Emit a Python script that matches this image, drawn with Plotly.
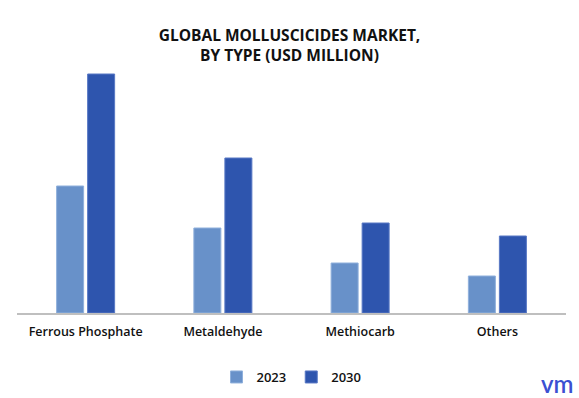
import plotly.graph_objects as go

categories = ["Ferrous Phosphate", "Metaldehyde", "Methiocarb", "Others"]
values_2023 = [127, 85, 50, 37]
values_2030 = [239, 155, 90, 77]
series_names = ["2023", "2030"]

W, H = 579, 398
ml, mr, mt, mb = 17, 13, 60, 85

fig = go.Figure()
fig.add_trace(go.Bar(
    x=categories, y=values_2023, name=series_names[0],
    marker=dict(color="#6891C9", line=dict(color="#8FB0DC", width=1)),
))
fig.add_trace(go.Bar(
    x=categories, y=values_2030, name=series_names[1],
    marker=dict(color="#2E55AE", line=dict(color="#5878C4", width=1)),
))

fig.update_layout(
    width=W, height=H,
    margin=dict(l=ml, r=mr, t=mt, b=mb, autoexpand=False),
    paper_bgcolor="white", plot_bgcolor="white",
    barmode="group", bargap=0.548, bargroupgap=0.13,
    showlegend=True,
    legend=dict(orientation="h", x=0.5, xanchor="center", y=-0.253, yanchor="middle",
                font=dict(family="Open Sans", size=13, color="#111111", weight=600),
                itemwidth=30, traceorder="normal"),
    title=dict(text="GLOBAL MOLLUSCICIDES MARKET,<br>BY TYPE (USD MILLION)",
               x=0.5, xanchor="center", y=0.897, yanchor="middle",
               font=dict(family="Open Sans", size=15.5, color="#111111", weight=700)),
    font=dict(family="Open Sans"),
)
fig.update_xaxes(showline=True, linecolor="#BFBFBF", linewidth=1.5, showgrid=False,
                 ticks="", ticklabelstandoff=6, automargin=False, fixedrange=True,
                 tickfont=dict(family="Open Sans", size=12.5, color="#111111", weight=600))
fig.update_yaxes(visible=False, range=[0, 253], showgrid=False, zeroline=False,
                 automargin=False, fixedrange=True)

fig.add_annotation(text="vm", xref="paper", yref="paper", x=1, xshift=9, y=-0.28,
                   xanchor="right", yanchor="middle", showarrow=False,
                   font=dict(family="Lato", size=24, color="#3B50D2", weight=600))

fig.write_html("out.html", config={"displayModeBar": False},
               post_script="document.body.style.margin='0';document.body.style.overflow='hidden';")
